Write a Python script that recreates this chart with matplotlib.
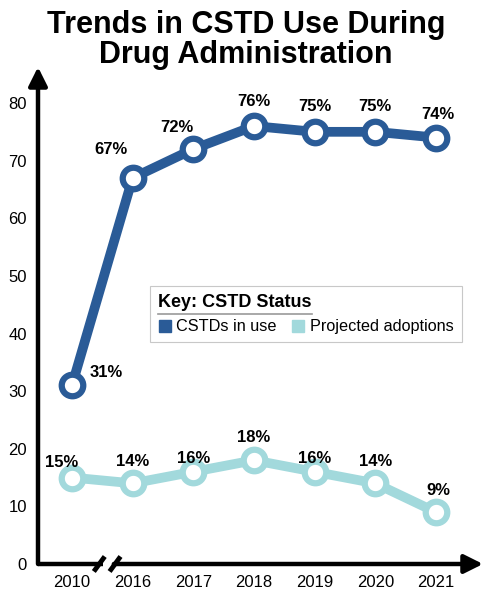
import matplotlib
matplotlib.use("Agg")
import matplotlib.pyplot as plt
from matplotlib.lines import Line2D

plt.rcParams['font.family'] = ['Liberation Sans', 'DejaVu Sans']

# data
years = ["2010", "2016", "2017", "2018", "2019", "2020", "2021"]
in_use = [31, 67, 72, 76, 75, 75, 74]
projected = [15, 14, 16, 18, 16, 14, 9]
yticks = [0, 10, 20, 30, 40, 50, 60, 70, 80]

dark = "#2a5b97"
light = "#a2d9dc"

W, H = 492, 600
fig = plt.figure(figsize=(W / 100, H / 100), dpi=100)
ax = fig.add_axes([38 / W, 36 / H, (483 - 38) / W, (564 - 67) / H])

x = list(range(len(years)))
ax.plot(x, in_use, color=dark, lw=7, marker="o", ms=15.5, mfc="white",
        mec=dark, mew=4.5, zorder=3, solid_capstyle="round")
ax.plot(x, projected, color=light, lw=7, marker="o", ms=15.5, mfc="white",
        mec=light, mew=4.5, zorder=3, solid_capstyle="round")

ax.set_xlim(-0.56, 6.775)
ax.set_ylim(0, 86.25)
ax.set_xticks(x)
ax.set_xticklabels(years)
ax.set_yticks(yticks)
ax.tick_params(length=0, labelsize=12, pad=8)
for s in ax.spines.values():
    s.set_visible(False)

# value labels
offs_use = [(34, 13), (-22, 28), (-16, 22), (0, 25), (0, 25), (0, 25), (2, 23)]
for xi, v, o in zip(x, in_use, offs_use):
    ax.annotate(f"{v}%", (xi, v), xytext=o, textcoords="offset pixels",
                ha="center", va="center", fontsize=12, fontweight="bold")
offs_proj = [(-10, 15), (0, 22), (0, 13), (0, 23), (0, 13), (0, 22), (2, 22)]
for xi, v, o in zip(x, projected, offs_proj):
    ax.annotate(f"{v}%", (xi, v), xytext=o, textcoords="offset pixels",
                ha="center", va="center", fontsize=12, fontweight="bold")

# axes with arrows
ax.annotate("", xy=(0, 1), xytext=(0, 0), xycoords="axes fraction",
            arrowprops=dict(arrowstyle="-|>", lw=3.2, color="black",
                            mutation_scale=28, shrinkA=0, shrinkB=0))
ax.plot([-0.56, 0.51], [0, 0], color="black", lw=3.2, clip_on=False,
        solid_capstyle="butt")
ax.annotate("", xy=(6.775, 0), xytext=(0.69, 0), xycoords="data",
            arrowprops=dict(arrowstyle="-|>", lw=3.2, color="black",
                            mutation_scale=28, shrinkA=0, shrinkB=0),
            annotation_clip=False)
for bx in [0.45, 0.71]:
    ax.plot([bx - 0.09, bx + 0.09], [-1.3, 1.3], color="black", lw=3.5,
            clip_on=False, solid_capstyle="butt")

# legend
handles = [Line2D([], [], ls="", marker="s", ms=9, color=dark),
           Line2D([], [], ls="", marker="s", ms=9, color=light)]
leg = ax.legend(handles, ["CSTDs in use", "Projected adoptions"], ncol=2,
                title="Key: CSTD Status", alignment="left",
                loc="upper left", bbox_to_anchor=((150 - 38) / 445, (564 - 286) / 497),
                borderaxespad=0,
                fontsize=11.7, title_fontproperties={"weight": "bold", "size": 13},
                frameon=True, fancybox=False, edgecolor="#c8c8c8",
                handlelength=0.8, handletextpad=0.3, columnspacing=0.95,
                borderpad=0.5, framealpha=1)
leg.get_frame().set_linewidth(0.8)
fig.canvas.draw()
tb = leg.get_title().get_window_extent()
fig.add_artist(Line2D([tb.x0 / W, tb.x1 / W], [(tb.y0 - 3) / H] * 2,
                      color="#999999", lw=1.2))

fig.suptitle("Trends in CSTD Use During\nDrug Administration", y=0.983,
             fontsize=22, fontweight="bold", linespacing=0.98)

fig.savefig("out.png", dpi=100)
